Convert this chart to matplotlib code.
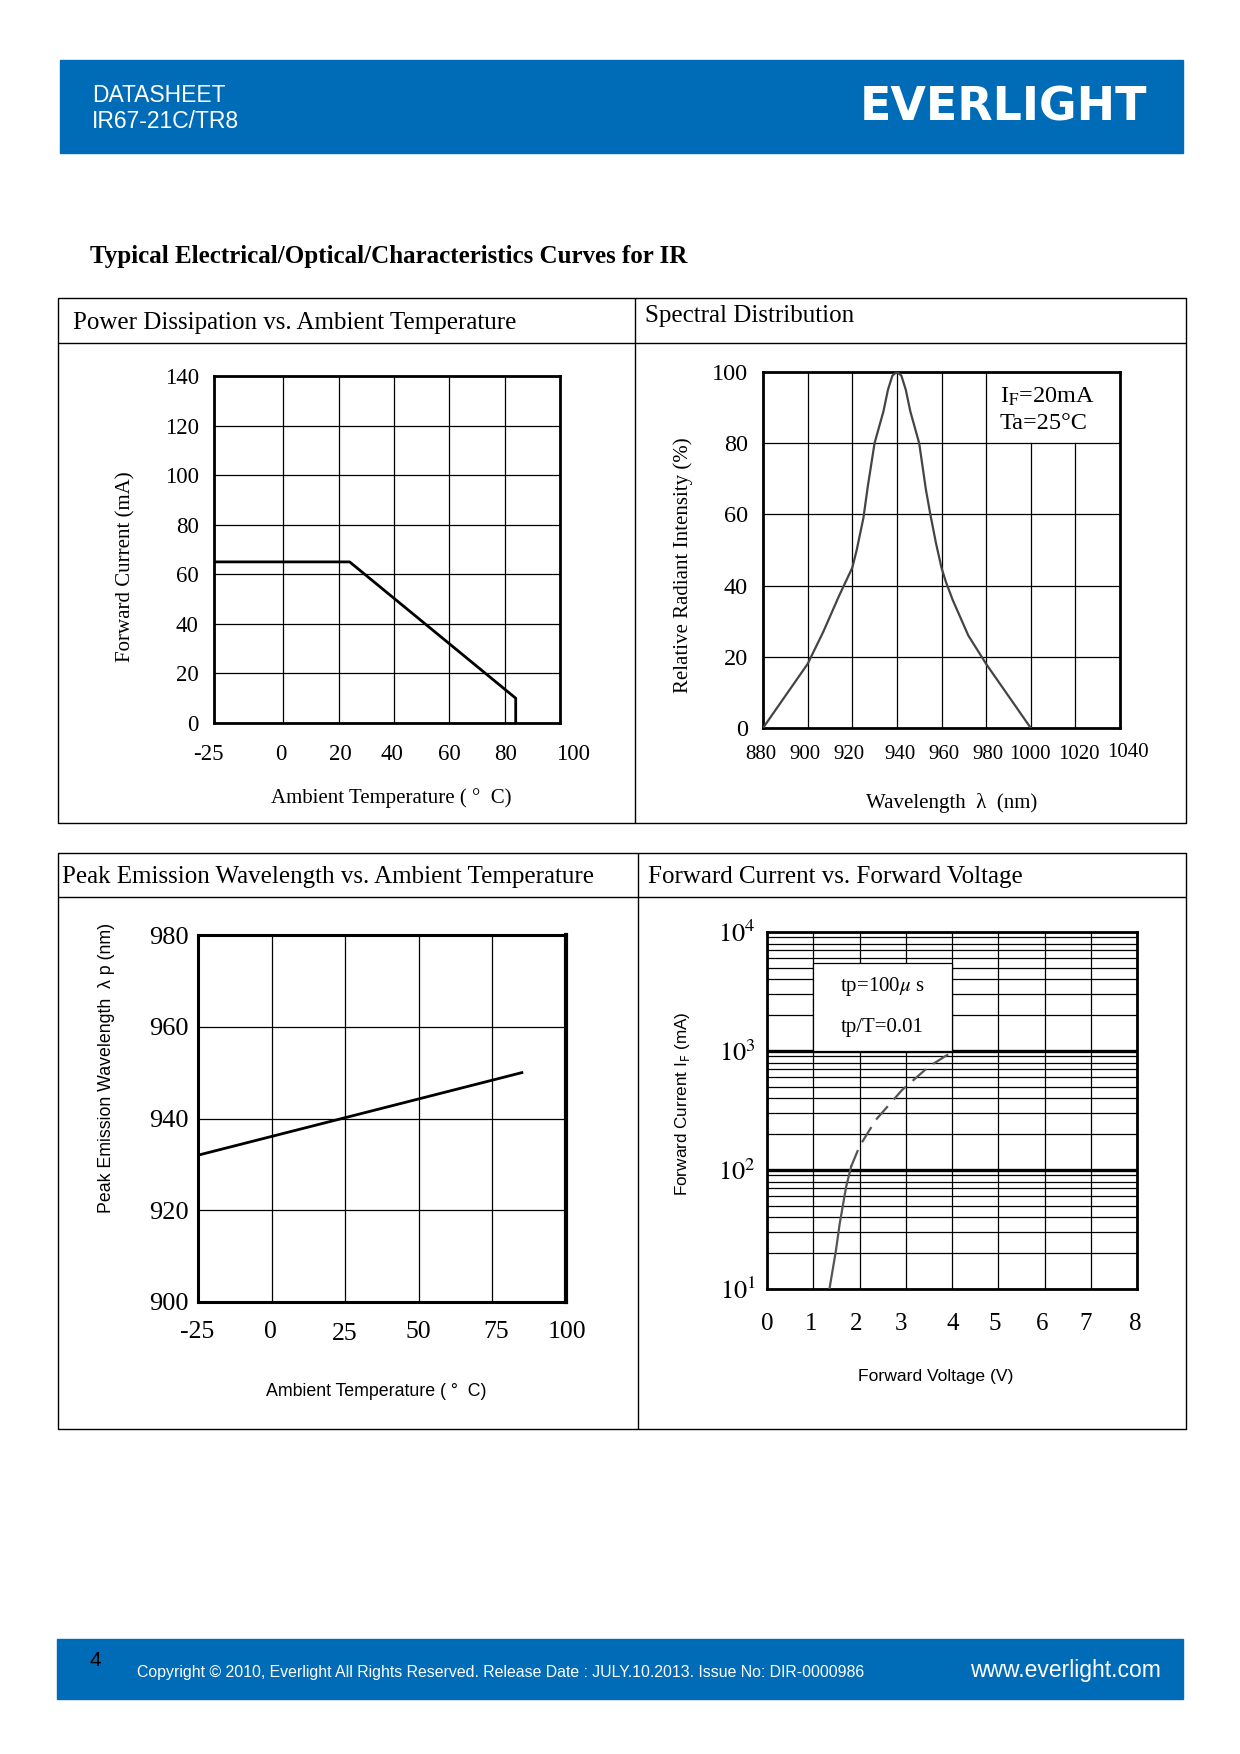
import matplotlib
matplotlib.use("Agg")
import matplotlib.pyplot as plt
from matplotlib.patches import Rectangle
from matplotlib.transforms import ScaledTranslation

W, H = 1240, 1754

# potencia disipada vs temperatura
temp_pd = [-25, 24, 84, 84]
corriente_pd = [65, 65, 10, 0]
ticks_pd_x = [-25, 0, 20, 40, 60, 80, 100]
ticks_pd_y = [0, 20, 40, 60, 80, 100, 120, 140]

# distribucion espectral
onda = [880, 890, 900, 907, 914, 917, 920, 922, 925, 927, 930, 934, 936, 938, 940,
        942, 944, 946, 950, 953, 955, 957.5, 960, 962, 965, 972, 980, 990, 1000]
intensidad = [0, 9, 18, 27, 37, 41, 45, 50, 59, 68, 80, 89, 95, 99, 100,
              99, 95, 89, 80, 67, 60, 52, 45, 41, 36, 26, 18, 9, 0]
ticks_es_x = [880, 900, 920, 940, 960, 980, 1000, 1020, 1040]
ticks_es_y = [0, 20, 40, 60, 80, 100]

# longitud de onda pico vs temperatura
temp_pe = [-25, 85]
pico_pe = [932, 950]
ticks_pe_x = [-25, 0, 25, 50, 75, 100]
ticks_pe_y = [900, 920, 940, 960, 980]

# corriente directa vs tension directa
vf_continua = [1.35, 1.49, 1.57, 1.71, 1.82]
if_continua = [10, 21, 35, 72, 107]
vf_pulsos = [1.82, 2.0, 2.35, 2.92, 3.5, 4.07]
if_pulsos = [107, 158, 263, 470, 740, 1020]
ticks_fv_x = [0, 1, 2, 3, 4, 5, 6, 7, 8]
ticks_fv_y = [10, 100, 1000, 10000]

SERIF = ["Liberation Serif", "DejaVu Serif"]
SANS = ["Liberation Sans", "DejaVu Sans"]
NARROW = ["Liberation Sans Narrow", "Liberation Sans", "DejaVu Sans"]
AZUL = "#006bb6"

plt.rcParams["mathtext.fontset"] = "stix"

fig = plt.figure(figsize=(W / 100, H / 100), dpi=100)
bg = fig.add_axes([0, 0, 1, 1])
bg.set_xlim(0, W)
bg.set_ylim(H, 0)
bg.axis("off")


def caja(x0, y0, x1, y1):
    return [x0 / W, 1 - y1 / H, (x1 - x0) / W, (y1 - y0) / H]


def linea(x, y, lw=1.0):
    bg.plot(x, y, color="black", lw=lw, solid_capstyle="butt")


def mover(ax, dx, dy=None):
    # corre las etiquetas del eje x unos pixeles, como en el original
    dy = dy or [0] * len(dx)
    for lab, a, b in zip(ax.get_xticklabels(), dx, dy):
        lab.set_transform(lab.get_transform() + ScaledTranslation(a / 100, b / 100, fig.dpi_scale_trans))


# cabecera y pie
bg.add_patch(Rectangle((60, 60), 1123, 93, color=AZUL))
bg.text(92, 95, "DATASHEET", color="white", fontsize=16.5, family=SANS, va="center")
bg.text(92, 121, "IR67-21C/TR8", color="white", fontsize=16.5, family=SANS, va="center")
bg.text(1004, 108, "EVERLIGHT", color="white", fontsize=33, family=["DejaVu Sans"],
        fontweight="heavy", ha="center", va="center")

bg.add_patch(Rectangle((57, 1639), 1126, 60, color=AZUL))
bg.text(90, 1660, "4", color="black", fontsize=15, family=SANS, va="center")
bg.text(137, 1672, "Copyright \u00a9 2010, Everlight All Rights Reserved. Release Date : JULY.10.2013. Issue No: DIR-0000986",
        color="white", fontsize=11.4, family=SANS, va="center")
bg.text(1161, 1670, "www.everlight.com", color="white", fontsize=16.5, family=SANS, va="center", ha="right")

bg.text(90, 256, "Typical Electrical/Optical/Characteristics Curves for IR", fontsize=18,
        family=SERIF, fontweight="bold", va="center")

# tablas
for (y0, y1, yh, xd) in [(298, 823, 343, 635), (853, 1429, 897, 638)]:
    linea([58, 1186, 1186, 58, 58], [y0, y0, y1, y1, y0])
    linea([58, 1186], [yh, yh])
    linea([xd, xd], [y0, y1])

bg.text(73, 323, "Power Dissipation vs. Ambient Temperature", fontsize=18, family=SERIF, va="center")
bg.text(645, 316, "Spectral Distribution", fontsize=18, family=SERIF, va="center")
bg.text(62, 877, "Peak Emission Wavelength vs. Ambient Temperature", fontsize=18, family=SERIF, va="center")
bg.text(648, 877, "Forward Current vs. Forward Voltage", fontsize=18, family=SERIF, va="center")


def base(ax, lw=2.0):
    for s in ax.spines.values():
        s.set_linewidth(lw)
    ax.tick_params(length=0)


# grafico 1
ax1 = fig.add_axes(caja(214, 376, 560, 723))
ax1.set_xlim(-25, 100)
ax1.set_ylim(0, 140)
ax1.grid(True, color="black", lw=0.9)
ax1.plot(temp_pd, corriente_pd, color="black", lw=2.0, zorder=3)
ax1.set_xticks(ticks_pd_x, [str(t) for t in ticks_pd_x], family=SERIF, fontsize=16.5)
ax1.set_yticks(ticks_pd_y, [str(t) for t in ticks_pd_y], family=SERIF, fontsize=16.5)
ax1.tick_params(axis="x", pad=15)
ax1.tick_params(axis="y", pad=11)
base(ax1)
mover(ax1, [-6, -2, 2, -2, 0, 1, 13])
bg.text(126, 567, "Forward Current (mA)", rotation=90, fontsize=15, family=SERIF, ha="center", va="center")
bg.text(391, 798, "Ambient Temperature ( \u00b0  C)", fontsize=15, family=SERIF, ha="center", va="center")

# grafico 2
ax2 = fig.add_axes(caja(763, 372, 1120, 728))
ax2.set_xlim(880, 1040)
ax2.set_ylim(0, 100)
for t in ticks_es_x[1:-1]:
    tope = 80 if t >= 1000 else 100
    ax2.plot([t, t], [0, tope], color="black", lw=0.9, zorder=1)
for t in ticks_es_y[1:-1]:
    ax2.axhline(t, color="black", lw=0.9, zorder=1)
ax2.plot(onda, intensidad, color="#444444", lw=1.6, zorder=3)
ax2.set_xticks(ticks_es_x, [str(t) for t in ticks_es_x], family=SERIF, fontsize=15)
ax2.set_yticks(ticks_es_y, [str(t) for t in ticks_es_y], family=SERIF, fontsize=17.5)
ax2.tick_params(axis="x", pad=12)
ax2.tick_params(axis="y", pad=11)
base(ax2)
mover(ax2, [-2, -3, -3, 3, 2, 2, -1, 4, 8], [0, 0, 0, 0, 0, 0, 0, 0, 2])
ax2.text(986, 93, r"I$_{\rm F}$=20mA", fontsize=17.5, family=SERIF, va="center")
ax2.text(986, 85.5, "Ta=25\u00b0C", fontsize=17.5, family=SERIF, va="center")
bg.text(683, 565, "Relative Radiant Intensity (%)", rotation=90, fontsize=15, family=SERIF, ha="center", va="center")
bg.text(952, 803, "Wavelength  \u03bb  (nm)", fontsize=15, family=SERIF, ha="center", va="center")

# grafico 3
ax3 = fig.add_axes(caja(198, 935, 566, 1302))
ax3.set_xlim(-25, 100)
ax3.set_ylim(900, 980)
ax3.grid(True, color="black", lw=0.9)
ax3.plot(temp_pe, pico_pe, color="black", lw=2.0, zorder=3)
ax3.set_xticks(ticks_pe_x, [str(t) for t in ticks_pe_x], family=SERIF, fontsize=18.5)
ax3.set_yticks(ticks_pe_y, [str(t) for t in ticks_pe_y], family=SERIF, fontsize=19)
ax3.tick_params(axis="x", pad=14)
ax3.tick_params(axis="y", pad=7)
base(ax3, 2.2)
ax3.spines["right"].set_linewidth(3)
mover(ax3, [-1, -1, -1, 0, 4, 1], [0, 0, -2, 0, 0, 0])
bg.text(107, 1068, "Peak Emission Wavelength  \u03bb p (nm)", rotation=90, fontsize=12.8, family=NARROW,
        ha="center", va="center")
bg.text(376, 1391, "Ambient Temperature ( \u00b0  C)", fontsize=12.8, family=NARROW, ha="center", va="center")

# grafico 4
ax4 = fig.add_axes(caja(767, 932, 1137, 1289))
ax4.set_yscale("log")
ax4.set_xlim(0, 8)
ax4.set_ylim(10, 10000)
ax4.grid(True, which="both", color="black", lw=0.9)
ax4.axhline(100, color="black", lw=2.4, zorder=2)
ax4.axhline(1000, color="black", lw=2.4, zorder=2)
ax4.add_patch(Rectangle((1, 1000), 3, 4500, facecolor="white", edgecolor="black", lw=0.9, zorder=2.5))
ax4.plot(vf_continua, if_continua, color="#555555", lw=1.6, zorder=3)
ax4.plot(vf_pulsos, if_pulsos, color="#555555", lw=1.6, dashes=(8, 4), zorder=3)
ax4.set_xticks(ticks_fv_x, [str(t) for t in ticks_fv_x], family=SERIF, fontsize=18)
ax4.set_yticks(ticks_fv_y, [r"$10^{%d}$" % e for e in [1, 2, 3, 4]], fontsize=19)
ax4.yaxis.set_minor_formatter(plt.NullFormatter())
ax4.tick_params(axis="x", pad=17)
ax4.tick_params(axis="y", pad=8)
ax4.tick_params(which="minor", length=0)
base(ax4)
mover(ax4, [0, -2, -3, -5, 1, -4, -2, -5, -2])
ax4.text(2.5, 3500, r"tp=100$\mu$ s", fontsize=15, family=SERIF, ha="center", va="center", zorder=4)
ax4.text(2.5, 1580, "tp/T=0.01", fontsize=15, family=SERIF, ha="center", va="center", zorder=4)
bg.text(682, 1104, r"Forward Current I$_{\rm F}$ (mA)", rotation=90, fontsize=12.3, family=NARROW,
        math_fontfamily="dejavusans", ha="center", va="center")
bg.text(936, 1377, "Forward Voltage (V)", fontsize=12.6, family=NARROW, ha="center", va="center")

fig.savefig("out.png", dpi=100)
